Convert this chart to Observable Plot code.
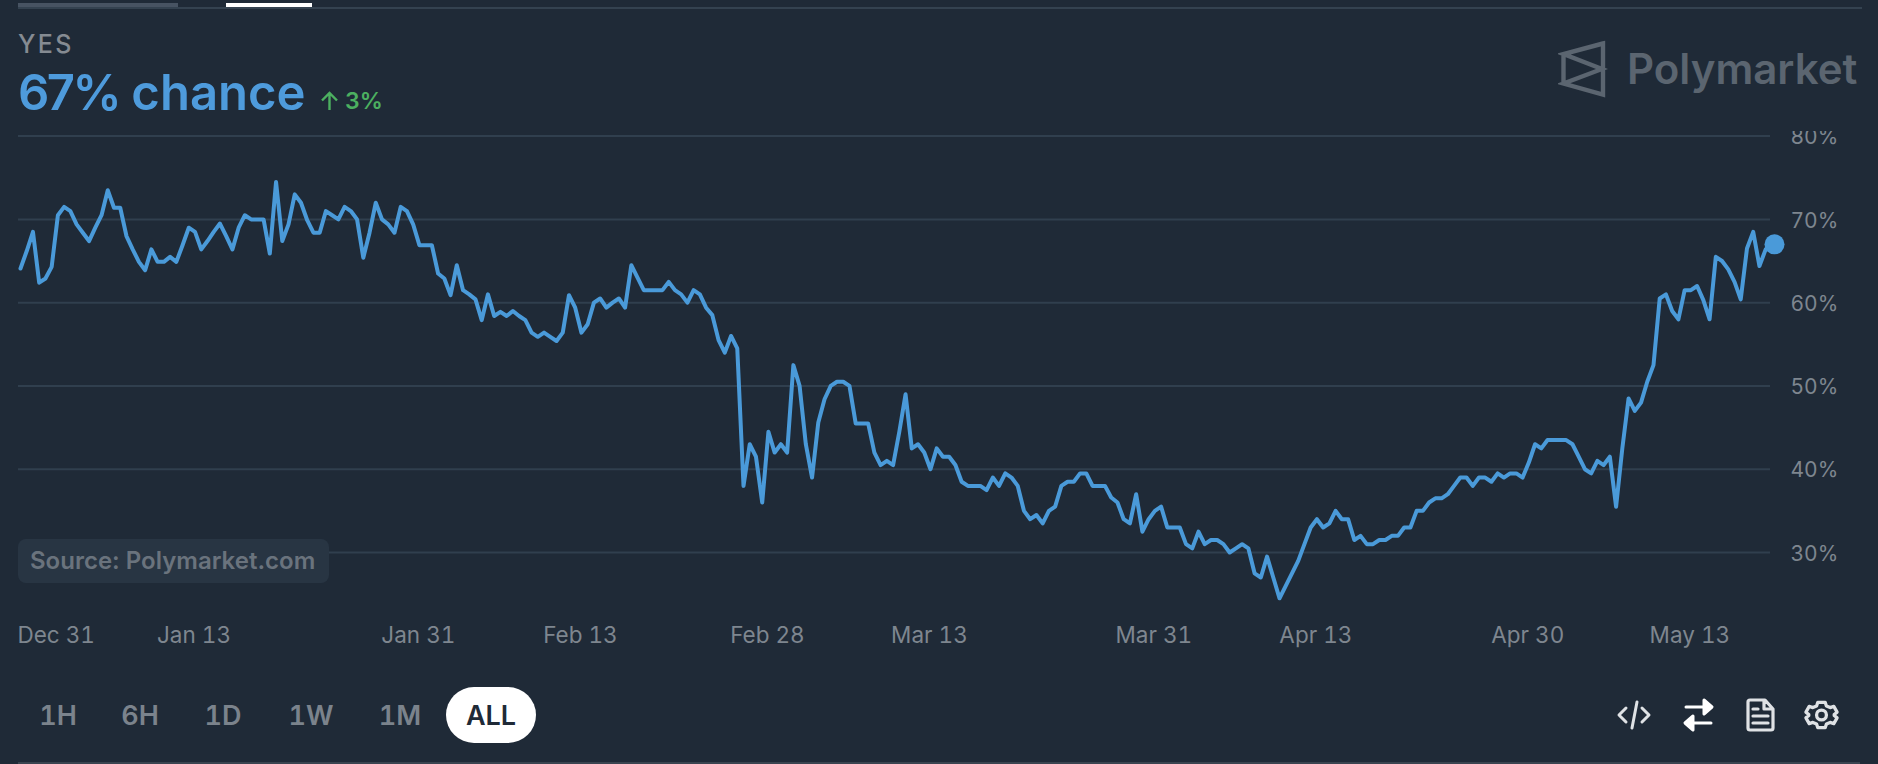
<!DOCTYPE html>
<html><head><meta charset="utf-8">
<script src="https://cdn.jsdelivr.net/npm/d3@7"></script>
<script src="https://cdn.jsdelivr.net/npm/@observablehq/plot@0.6"></script>
<style>
html,body{margin:0;padding:0;background:#1f2a37;width:1878px;height:764px;overflow:hidden;font-family:Inter,sans-serif;font-variant-numeric:tabular-nums}
.a{position:absolute;white-space:nowrap}
#chart{position:absolute;left:0;top:131px}
.btn{position:absolute;top:714.5px;transform:translate(-50%,-50%);font-size:27px;font-weight:600;color:#7b838c}
</style></head><body>
<div class="a" style="left:18px;top:3px;width:160px;height:5px;background:#475362"></div>
<div class="a" style="left:226px;top:3px;width:86px;height:5px;background:#fff"></div>
<div class="a" style="left:18px;top:7px;width:1844px;height:2px;background:#344250"></div>
<div class="a" id="yes" style="left:18px;top:30px;font-size:25px;font-weight:500;letter-spacing:2.4px;color:#858b92;line-height:29px">YES</div>
<div class="a" id="chance" style="left:18px;top:63px;font-size:49px;font-weight:600;font-variant-numeric:normal;color:#4e9bdc;line-height:60px"><span style="letter-spacing:-2.600px">67%</span> chance</div>
<svg class="a" style="left:320px;top:91px" width="19" height="20" viewBox="0 0 19 20" fill="none" stroke="#4cb060" stroke-width="2.4"><path d="M9.500 19V2M2 9.500L9.500 2L17 9.500"/></svg>
<div class="a" style="left:345px;top:86px;font-size:23px;font-weight:600;font-variant-numeric:normal;color:#4cb060;line-height:30px">3%</div>
<svg class="a" style="left:1558px;top:40px" width="50" height="58" viewBox="0 0 50 58" fill="none" stroke="#5b6570" stroke-width="4.4"><path d="M45 3.500L5.500 14L44 29L5.500 43.500L45 54.500ZM5.500 14V43.500"/></svg>
<div class="a" style="left:1627px;top:42px;font-size:42px;font-weight:600;color:#5b6570;line-height:54px">Polymarket</div>
<div id="chart"></div>
<div class="a" style="left:18px;top:539px;width:311px;height:44px;background:#283543;border-radius:8px"></div>
<div class="a" style="left:30px;top:546px;font-size:24px;font-weight:600;font-variant-numeric:normal;color:#6a737d;line-height:30px">Source: Polymarket.com</div>
<div class="btn" style="left:58px">1H</div>
<div class="btn" style="left:140px">6H</div>
<div class="btn" style="left:223px">1D</div>
<div class="btn" style="left:311px">1W</div>
<div class="btn" style="left:400px">1M</div>
<div class="a" style="left:446px;top:687px;width:90px;height:56px;border-radius:28px;background:#fff"></div>
<div class="btn" style="left:491px;color:#1f2a37">ALL</div>
<svg class="a" style="left:1610px;top:690px" width="240" height="50" viewBox="1610 690 240 50" fill="none" stroke-linecap="round" stroke-linejoin="round">
<g stroke="#dfe2e5" stroke-width="3"><path d="M1626 708l-7 7 7 7M1642 708l7 7-7 7M1637 702l-5 26"/></g>
<g stroke="#fff" stroke-width="3" fill="#fff"><path d="M1686 707h20M1704 700l8 7-8 7zM1711 723h-20M1693 716l-8 7 8 7z"/></g>
<g stroke="#dfe2e5" stroke-width="3.200"><path d="M1750 700h15l8 9v19a2 2 0 0 1-2 2h-21a2 2 0 0 1-2-2v-26a2 2 0 0 1 2-2zM1764 700v9h9M1753 709h5M1753 716h15M1753 723h15"/>
<g transform="translate(1821.500,715) scale(.82) translate(-1821.500,-715)" stroke-width="4"><circle cx="1821.500" cy="715" r="6"/><path d="M1817 699.500h9l1.500 4.500 4.500 2 4.500-1.500 4 7-3.500 3v1l3.500 3-4 7-4.500-1.500-4.500 2-1.500 4.500h-9l-1.500-4.500-4.500-2-4.500 1.500-4-7 3.500-3v-1l-3.500-3 4-7 4.500 1.500 4.500-2z"/></g></g>
</svg>
<div class="a" style="left:18px;top:762px;width:1842px;height:2px;background:#3a4450"></div>
<script>
const yesValues = [
64.1,66.2,68.5,62.4,62.9,64.3,70.5,71.5,71.0,69.4,68.4,67.4,69.0,70.5,73.5,71.4,71.4,68.0,66.4,64.9,
63.9,66.4,64.9,64.9,65.5,64.9,66.9,69.0,68.5,66.4,67.4,68.5,69.5,68.0,66.4,69.0,70.5,70.0,70.0,70.0,
65.9,74.5,67.4,69.4,73.0,72.0,69.9,68.4,68.4,71.0,70.5,70.0,71.5,71.0,70.0,65.4,68.4,72.0,70.0,69.4,
68.4,71.5,71.0,69.4,66.9,66.9,66.9,63.5,62.9,60.9,64.5,61.5,61.0,60.4,57.9,61.0,58.4,58.9,58.4,59.0,
58.4,57.9,56.4,55.9,56.4,55.9,55.4,56.4,60.9,59.4,56.4,57.4,60.0,60.5,59.4,60.0,60.5,59.4,64.5,63.0,
61.5,61.5,61.5,61.5,62.5,61.5,61.0,60.0,61.5,61.0,59.4,58.5,55.5,54.0,56.0,54.5,38.0,43.0,41.5,36.0,
44.5,42.0,43.0,42.0,52.5,50.0,43.0,39.0,45.6,48.4,50.0,50.5,50.5,50.0,45.5,45.5,45.5,42.0,40.5,41.0,
40.5,44.5,49.0,42.5,43.0,42.0,40.0,42.5,41.5,41.5,40.5,38.5,38.0,38.0,38.0,37.5,39.0,38.0,39.5,39.0,
38.0,35.0,34.0,34.5,33.5,35.0,35.5,38.0,38.5,38.5,39.5,39.5,38.0,38.0,38.0,36.6,36.0,34.0,33.5,37.0,
32.5,34.0,35.0,35.5,33.0,33.0,33.0,31.0,30.5,32.5,31.0,31.5,31.5,31.0,30.0,30.5,31.0,30.5,27.5,27.0,
29.5,27.0,24.5,26.0,27.5,29.0,31.0,33.0,34.0,33.0,33.5,35.0,34.0,34.0,31.5,32.0,31.0,31.0,31.5,31.5,
32.0,32.0,33.0,33.0,35.0,35.0,36.0,36.5,36.5,37.0,38.0,39.0,39.0,38.0,39.0,39.0,38.5,39.5,39.0,39.5,
39.5,39.0,40.8,43.0,42.5,43.5,43.5,43.5,43.5,43.0,41.5,40.0,39.5,41.0,40.5,41.5,35.5,42.5,48.5,47.0,
48.0,50.5,52.5,60.5,61.0,59.0,58.0,61.5,61.5,62.0,60.3,58.0,65.5,65.0,64.0,62.5,60.4,66.5,68.5,64.4,
66.4,67.0];
const stepHours = 12;
const lastOffsetHours = 3377;
const firstTime = Date.UTC(2024,11,30,2);
const xTickDates = [[2024,11,31],[2025,0,13],[2025,0,31],[2025,1,13],[2025,1,28],[2025,2,13],[2025,2,31],[2025,3,13],[2025,3,30],[2025,4,13]].map(d=>new Date(Date.UTC(...d)));
const yTicks = [30,40,50,60,70,80];
const hr = 3600e3;
const data = yesValues.map((v,i)=>({
  t:new Date(firstTime + (i===yesValues.length-1 ? lastOffsetHours : i*stepHours)*hr), v}));
const fmt = d3.utcFormat("%b %d");
const axisStyle = {tickSize:0,fill:"#7e868f",label:null};
const plot = Plot.plot({
  width:1878,height:532,
  marginLeft:18,marginRight:108,marginTop:0,marginBottom:53,
  style:{background:"transparent",fontFamily:"Inter, sans-serif",overflow:"hidden"},
  x:{type:"utc",domain:[new Date(firstTime),new Date(firstTime+lastOffsetHours*hr)],range:[20,1774]},
  y:{domain:[30,80],range:[421,4.6]},
  marks:[
    Plot.gridY(yTicks,{stroke:"#303f4e",strokeOpacity:1,strokeWidth:2}),
    Plot.axisY(yTicks,{anchor:"right",...axisStyle,fontSize:21,tickPadding:20,tickFormat:d=>d+"%",dy:1.5}),
    Plot.axisX(xTickDates.slice(1),{anchor:"bottom",...axisStyle,fontSize:22.5,tickPadding:17,tickFormat:fmt}),
    Plot.axisX(xTickDates.slice(0,1),{anchor:"bottom",...axisStyle,fontSize:22.5,tickPadding:17,tickFormat:fmt,textAnchor:"start",dx:-14.5}),
    Plot.line(data,{x:"t",y:"v",stroke:"#4a9ad9",strokeWidth:4,strokeLinejoin:"round"}),
    Plot.dot(data.slice(-1),{x:"t",y:"v",r:10,fill:"#4a9ad9",stroke:null})
  ]
});
document.getElementById("chart").append(plot);
</script>
</body></html>
